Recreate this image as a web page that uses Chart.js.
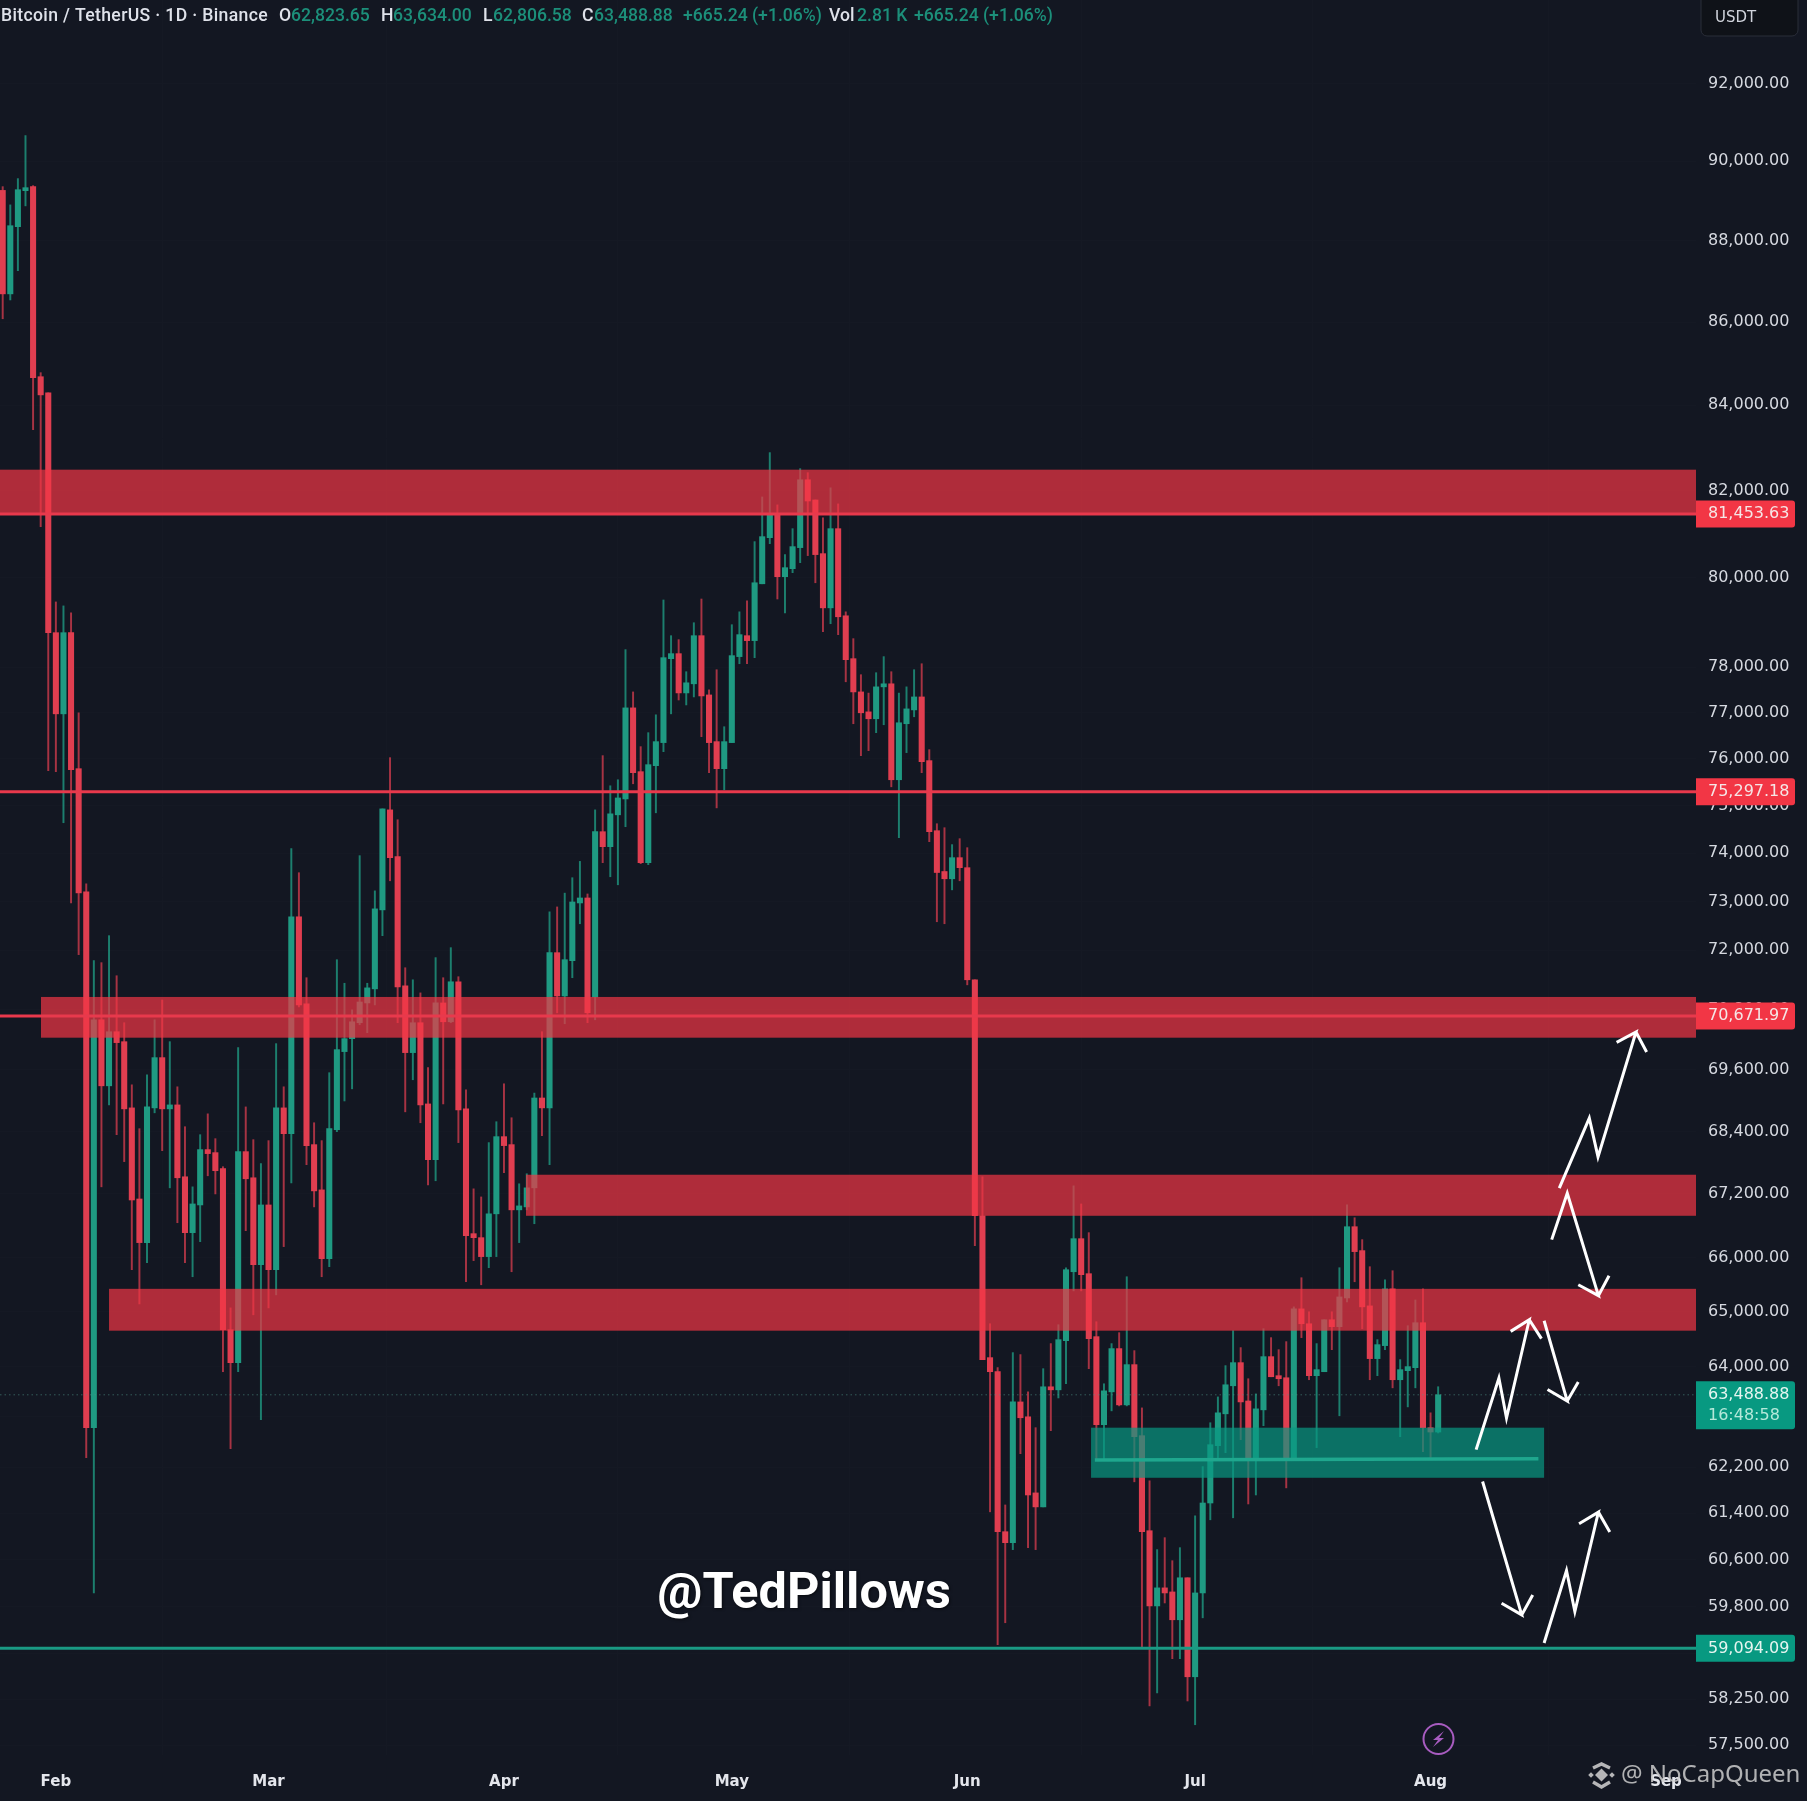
<!DOCTYPE html>
<html><head><meta charset="utf-8">
<style>html,body{margin:0;padding:0;background:#131722;overflow:hidden}canvas{display:block}</style>
<script src="https://cdn.jsdelivr.net/npm/chart.js@4"></script>
</head><body><canvas id="c" width="1807" height="1801"></canvas>
<script>
const opens=[89263,86688,88352,89256,89358,84680,84294,78765,76977,78765,
75792,73196,62901,70595,69288,70357,70159,68857,67105,66282,
68857,69843,68838,68915,67528,66469,66992,68049,67991,67683,
64669,64069,68010,67509,65870,66992,65776,68857,68356,72682,
70912,68145,67278,65982,68433,69962,70219,70536,70932,71215,
72824,74914,73929,71276,69942,70536,68934,67856,70932,70555,
71358,68838,66450,66375,66020,66824,68299,68145,66899,66955,
67317,69050,68857,71948,71072,71785,72967,73070,71052,74453,
74138,74809,75146,77107,75728,73803,75857,76353,78188,78299,
77434,77634,78698,77390,76374,75792,76353,78233,78698,78588,
79862,80911,81436,80022,80204,80683,82247,81778,80546,79320,
81117,79142,78188,77456,77020,76870,77567,77634,75555,76762,
77063,77346,75965,74474,73619,73468,73908,73699,71398,66787,
64160,63905,61077,60888,63361,63095,61751,61507,63633,63578,
64469,65738,66356,65702,64542,62954,63542,64324,63308,64033,
62759,61094,59808,60114,60045,59574,60286,58621,60028,61575,
62582,63148,63651,64069,63378,62370,63219,64178,63833,63796,
62370,65051,64778,63833,63905,64851,64724,65252,66581,66132,
65106,64142,64378,65421,63760,63924,63978,64797,62901,62823.65];
const highs=[89358,88898,89561,90658,89384,84777,84294,79453,79364,79209,
76999,73363,71785,71745,72295,71480,70536,69308,68453,69506,
70595,70991,70159,69269,68491,67336,68337,68741,68260,67721,
65069,70041,68876,68241,67780,68222,70120,69269,74097,73594,
71440,68568,68222,69546,71805,71328,70793,73950,71328,73217,
74935,76029,74705,71642,71398,71134,69645,71847,71440,72050,
71460,69209,67298,67144,68184,68588,69328,68665,67394,67586,
69146,70357,72784,72885,73170,73490,73830,73153,74914,76072,
75426,75555,78388,77456,76266,76568,76956,79497,78698,78610,
77900,78987,79519,77501,77944,76697,78943,79231,79475,80820,
81848,82881,81664,80524,81117,82506,82412,81778,81367,82060,
81687,79231,78632,77834,77430,77878,78233,77900,77430,77567,
77944,78076,76201,74621,74537,74181,74306,74117,71398,67528,
64778,63978,61541,64251,64215,63542,62901,63960,64415,64760,
65813,67355,67011,66469,64815,63687,64415,64615,65645,64287,
63254,61963,60768,60974,60578,60802,60286,61352,62212,62989,
63451,64015,64651,64342,63778,63505,64687,64524,64305,64451,
65088,65627,64997,64415,64851,64997,65813,66992,66750,66338,
65832,64487,65589,65757,64124,64742,65215,65421,63166,63634];
const lows=[86080,86539,87259,88873,83421,81162,75749,75728,74642,72967,
71908,62370,60028,67336,68915,68337,67818,65776,65142,65907,
68761,68029,67317,66656,65907,65645,66300,67547,67201,63905,
62529,63905,66506,64942,63042,65069,65309,66207,67413,70852,
67760,66955,65645,65832,68395,68992,69229,70496,70338,70892,
72295,73426,70536,68780,69407,68568,67375,67452,68934,70536,
68184,65552,65945,65496,65813,66020,67606,65738,66282,66899,
66637,68318,67760,70734,70516,71440,72539,70536,70595,73803,
73510,73343,74558,75469,73782,73761,74852,76158,76977,77279,
77171,77346,76482,75706,74956,75340,76353,78076,78076,78210,
79862,80774,79519,79209,80113,80341,80501,79885,78787,78965,
78721,77678,76762,76072,76180,76568,76740,75404,74327,76137,
76913,75706,74243,72580,72539,73238,73426,71296,66226,64124,
61421,59156,59524,60768,62440,60802,60768,61507,62848,63432,
63687,65383,65383,63960,62334,62334,63201,63290,63290,61945,
59123,58140,58354,59858,58922,58922,58221,57831,59607,61283,
62334,62458,61318,62688,61558,61715,62936,63814,63651,61839,
62370,64524,63760,62547,63905,64305,63113,65179,65552,64687,
63760,63833,64305,63614,62741,63272,63614,62476,62370,62806.58];
const closes=[86688,88376,89281,89332,84656,84246,78765,76977,78765,75770,
73175,62901,70595,69288,70357,70140,68838,67086,66282,68876,
69843,68838,68915,67509,66469,67011,68049,67972,67644,64669,
64069,68010,67490,65870,66992,65776,68857,68356,72682,70892,
68126,67259,65982,68453,70001,70219,70555,70951,71235,72845,
74935,73908,71255,69942,70536,68915,67856,70932,70555,71358,
68818,66412,66375,66020,66824,68299,68126,66899,66974,67317,
69050,68857,71948,71072,71805,72987,73070,70734,74453,74138,
74830,75167,77107,75706,73803,75878,76374,78210,78299,77434,
77656,78698,77368,76353,75792,76374,78255,78721,78588,79885,
80934,81436,80022,80227,80706,82247,81755,80524,79320,81117,
79120,78166,77456,77000,76870,77567,77634,75555,76783,77085,
77346,75943,74453,73598,73468,73908,73699,71398,66787,64124,
63905,61077,60888,63361,63078,61715,61507,63633,63578,64487,
65776,66356,65683,64505,62954,63560,64324,63308,64033,62741,
61077,59808,60114,60028,59574,60286,58621,60028,61575,62599,
63166,63669,64069,63361,62370,63237,64178,63814,63778,62370,
65051,64778,63833,63942,64851,64724,65271,66581,66113,65088,
64142,64396,65421,63760,63942,63997,64797,62901,62824,63488.88];

const monthLabels=['Feb','Mar','Apr','May','Jun','Jul','Aug','Sep'];
const monthDays=[7,35,66,96,127,157,188,219];
const priceTicks=[92000,90000,88000,86000,84000,82000,80000,78000,77000,76000,75000,74000,73000,72000,70800,69600,68400,67200,66000,65000,64000,63100,62200,61400,60600,59800,59000,58250,57500];
const dayMin=-0.3555, dayMax=222.95, priceMin=57338, priceMax=94203;

const redZoneTop=[82482,71052,67567,65421];
const redZoneBottom=[81453.63,70238,66787,64651];
const redZoneStart=[dayMin,5.04,68.9,14];
const greenZoneTop=62901, greenZoneBottom=62016, greenZoneStart=143.3, greenZoneEnd=202.95;
const greenTrendDays=[143.8,202.2], greenTrendPrices=[62330,62350];
const redLevels=[81453.63,75297.18,70671.97];
const greenLevel=59094.09;
const lastPrice=63488.88;

const arrowADays=[204.95,208.9,210.05,215.05,212.5,215.05,216.45];
const arrowAPrices=[67311,68659,67908,70351,70146,70351,69955];
const arrowBDays=[203.95,206,210.1,207.45,210.1,211.5];
const arrowBPrices=[66338,67215,65295,65496,65295,65664];
const arrowCDays=[194,197,198,201,198.55,201,202.6];
const arrowCPrices=[62512,63791,63072,64851,64638,64851,64506];
const arrowDDays=[202.95,206,203.4,206,207.45];
const arrowDPrices=[64833,63378,63584,63378,63718];
const arrowEDays=[194.85,200,197.35,200,201.45];
const arrowEPrices=[61951,59657,59853,59657,59994];
const arrowFDays=[202.95,205.9,207,210.1,207.55,210.1,211.6];
const arrowFPrices=[59184,60411,59712,61416,61215,61416,61072];

const RED='#e03e50', GREEN='#1f9a82';
const fmt=v=>v.toLocaleString('en-US',{minimumFractionDigits:2,maximumFractionDigits:2});
const isUp=i=>closes[i]>=opens[i];
const pts=(d,p)=>d.map((x,i)=>({x,y:p[i]}));
const arrow=(d,p)=>({type:'line',data:pts(d,p),borderColor:'#ffffff',borderWidth:3,pointRadius:0,tension:0,fill:false,order:1,borderJoinStyle:'miter',borderCapStyle:'butt',clip:false});

function drawZones(chart){
  const {ctx,scales:{x,y},chartArea:a}=chart;
  ctx.save();
  ctx.strokeStyle='rgba(80,150,135,0.55)';ctx.lineWidth=1;ctx.setLineDash([1.5,3]);
  ctx.beginPath();ctx.moveTo(a.left,y.getPixelForValue(lastPrice));ctx.lineTo(a.right,y.getPixelForValue(lastPrice));ctx.stroke();
  ctx.setLineDash([]);
  ctx.fillStyle='rgba(242,54,69,0.7)';
  redZoneTop.forEach((t,i)=>{
    const yt=y.getPixelForValue(t),yb=y.getPixelForValue(redZoneBottom[i]),xs=x.getPixelForValue(redZoneStart[i]);
    ctx.fillRect(xs,yt,a.right-xs,yb-yt);
  });
  ctx.fillStyle='rgba(8,153,129,0.7)';
  const gt=y.getPixelForValue(greenZoneTop),gb=y.getPixelForValue(greenZoneBottom),gs=x.getPixelForValue(greenZoneStart),ge=x.getPixelForValue(greenZoneEnd);
  ctx.fillRect(gs,gt,ge-gs,gb-gt);
  ctx.lineWidth=3;
  ctx.strokeStyle='#e8394c';
  redLevels.forEach(l=>{const p=y.getPixelForValue(l);ctx.beginPath();ctx.moveTo(a.left,p);ctx.lineTo(a.right,p);ctx.stroke();});
  ctx.strokeStyle='#1a9a84';
  const gp=y.getPixelForValue(greenLevel);ctx.beginPath();ctx.moveTo(a.left,gp);ctx.lineTo(a.right,gp);ctx.stroke();
  ctx.strokeStyle='#1fa78e';ctx.lineWidth=3.5;
  ctx.beginPath();ctx.moveTo(x.getPixelForValue(greenTrendDays[0]),y.getPixelForValue(greenTrendPrices[0]));
  ctx.lineTo(x.getPixelForValue(greenTrendDays[1]),y.getPixelForValue(greenTrendPrices[1]));ctx.stroke();
  ctx.restore();
}
function badge(ctx,y0,h,color){
  ctx.fillStyle=color;ctx.beginPath();ctx.roundRect(1696,y0,99,h,[0,3,3,0]);ctx.fill();
}
function diamond(ctx,cx,cy,r){
  ctx.beginPath();ctx.moveTo(cx,cy-r);ctx.lineTo(cx+r,cy);ctx.lineTo(cx,cy+r);ctx.lineTo(cx-r,cy);ctx.closePath();ctx.fill();
}
const overlay={
  id:'overlay',
  afterDatasetDraw(chart,args){ if(args.index===1) drawZones(chart); },
  afterDraw(chart){
    const {ctx,scales:{y}}=chart;
    ctx.save();
    ctx.textBaseline='middle';ctx.textAlign='left';
    const hLight='#dfe2ea', hGreen='#1c8f7a';
    ctx.font='500 17.6px Roboto, sans-serif';
    ctx.fillStyle=hLight;ctx.letterSpacing='0.35px';ctx.fillText('Bitcoin / TetherUS · 1D · Binance',1,17);ctx.letterSpacing='0px';
    [['O',279,hLight],['62,823.65',291,hGreen],['H',381,hLight],['63,634.00',393,hGreen],['L',483,hLight],['62,806.58',493,hGreen],['C',582,hLight],['63,488.88',594,hGreen],['+665.24 (+1.06%)',683,hGreen],['Vol',829,hLight],['2.81 K',857,hGreen],['+665.24 (+1.06%)',914,hGreen]]
      .forEach(([t,px,c])=>{ctx.fillStyle=c;ctx.fillText(t,px,17);});
    ctx.fillStyle='#0f1218';ctx.strokeStyle='#2a2e39';ctx.lineWidth=1;
    ctx.beginPath();ctx.roundRect(1701,-6,97,42,6);ctx.fill();ctx.stroke();
    ctx.fillStyle='#d1d4dc';ctx.font='15px "DejaVu Sans", sans-serif';ctx.fillText('USDT',1715,18);
    const bf='16px "DejaVu Sans", sans-serif';
    ctx.font=bf;
    redLevels.forEach(l=>{const p=y.getPixelForValue(l);badge(ctx,p-13.5,27,'#f23645');ctx.fillStyle='#f5e6e6';ctx.font=bf;ctx.fillText(fmt(l),1708,p);});
    const gp=y.getPixelForValue(greenLevel);badge(ctx,gp-13.5,27,'#089981');ctx.fillStyle='#e6f5f0';ctx.fillText(fmt(greenLevel),1708,gp);
    const lp=y.getPixelForValue(lastPrice);badge(ctx,lp-13.5,48,'#089981');
    ctx.fillStyle='#e6f5f0';ctx.fillText(fmt(lastPrice),1708,lp);
    ctx.fillStyle='#b5e8da';ctx.fillText('16:48:58',1708,lp+21);
    ctx.strokeStyle='#a85cc0';ctx.lineWidth=2;ctx.beginPath();ctx.arc(1438.5,1739,15,0,Math.PI*2);ctx.stroke();
    ctx.fillStyle='#a85cc0';ctx.beginPath();
    [[1444,1731],[1433,1740],[1438,1740],[1433,1747],[1444,1738],[1439,1738]].forEach((p,i)=>i?ctx.lineTo(p[0],p[1]):ctx.moveTo(p[0],p[1]));
    ctx.closePath();ctx.fill();
    ctx.font='700 50.4px Roboto, sans-serif';ctx.textAlign='center';
    ctx.shadowColor='rgba(0,0,0,0.6)';ctx.shadowBlur=3;ctx.shadowOffsetX=1;ctx.shadowOffsetY=1;
    ctx.fillStyle='#ffffff';ctx.fillText('@TedPillows',804,1595);
    ctx.shadowColor='transparent';ctx.shadowBlur=0;ctx.shadowOffsetX=0;ctx.shadowOffsetY=0;
    ctx.fillStyle='rgba(205,205,205,0.88)';
    diamond(ctx,1601.5,1775,6.5);diamond(ctx,1591,1775,2.8);diamond(ctx,1612,1775,2.8);
    ctx.strokeStyle='rgba(205,205,205,0.88)';ctx.lineWidth=3.4;
    ctx.beginPath();ctx.moveTo(1593,1768);ctx.lineTo(1601.5,1764);ctx.lineTo(1610,1768);ctx.stroke();
    ctx.beginPath();ctx.moveTo(1593,1782);ctx.lineTo(1601.5,1787);ctx.lineTo(1610,1782);ctx.stroke();
    ctx.textAlign='left';ctx.font='24px "Noto Sans", sans-serif';ctx.fillStyle='rgba(205,205,205,0.85)';
    ctx.fillText('@ NoCapQueen',1621,1775);
    ctx.restore();
  }
};
new Chart(document.getElementById('c'),{
  type:'bar',
  plugins:[overlay],
  data:{datasets:[
    {label:'wicks',data:opens.map((_,i)=>({x:i,y:[lows[i],highs[i]]})),barThickness:1.3,grouped:false,order:4,
     backgroundColor:c=>isUp(c.dataIndex)?'rgba(31,154,130,0.8)':'rgba(224,62,80,0.72)',borderWidth:0},
    {label:'bodies',data:opens.map((_,i)=>({x:i,y:[opens[i],closes[i]]})),barThickness:5.4,grouped:false,order:3,minBarLength:2,
     backgroundColor:c=>isUp(c.dataIndex)?GREEN:RED,borderWidth:0},
    arrow(arrowADays,arrowAPrices),arrow(arrowBDays,arrowBPrices),arrow(arrowCDays,arrowCPrices),
    arrow(arrowDDays,arrowDPrices),arrow(arrowEDays,arrowEPrices),arrow(arrowFDays,arrowFPrices)
  ]},
  options:{
    responsive:false,animation:false,devicePixelRatio:1,
    layout:{padding:0},
    plugins:{legend:{display:false},tooltip:{enabled:false},title:{display:false}},
    scales:{
      x:{type:'linear',min:dayMin,max:dayMax,offset:false,
        grid:{color:'#151924',drawTicks:false},border:{display:false},
        afterBuildTicks:s=>{s.ticks=monthDays.map(v=>({value:v}));},
        afterFit:s=>{s.height=46;s.paddingLeft=0;s.paddingRight=0;},
        ticks:{autoSkip:false,maxRotation:0,minRotation:0,padding:18,color:'#e4e6ec',font:{family:'"DejaVu Sans", sans-serif',size:15,weight:'600'},
          callback:v=>monthLabels[monthDays.indexOf(v)]}
      },
      y:{type:'logarithmic',position:'right',min:priceMin,max:priceMax,
        grid:{color:'#151924',drawTicks:false},border:{display:false},
        afterBuildTicks:s=>{s.ticks=priceTicks.map(v=>({value:v}));},
        afterFit:s=>{s.width=111;s.paddingTop=0;s.paddingBottom=0;},
        ticks:{autoSkip:false,padding:12,color:'#d6d9e0',font:{family:'"DejaVu Sans", sans-serif',size:16},callback:v=>fmt(v)}
      }
    }
  }
});
</script></body></html>
